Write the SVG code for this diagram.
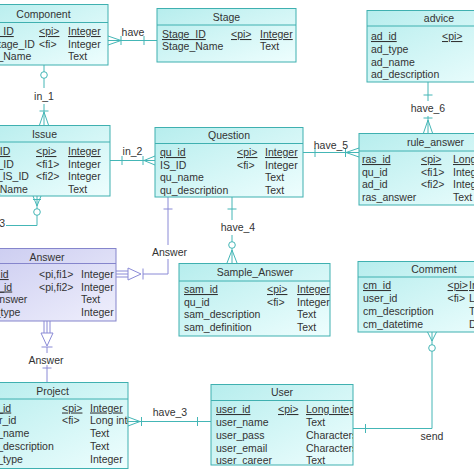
<svg xmlns="http://www.w3.org/2000/svg" width="474" height="474" viewBox="0 0 474 474">
<defs>
<linearGradient id="g" x1="0" y1="0" x2="1" y2="1"><stop offset="0" stop-color="#b6eded"/><stop offset="1" stop-color="#eefefe"/></linearGradient>
<linearGradient id="gp" x1="0" y1="0" x2="1" y2="1"><stop offset="0" stop-color="#cacbf0"/><stop offset="1" stop-color="#efeffc"/></linearGradient>
<clipPath id="cProject"><rect x="-23" y="382" width="151" height="90"/></clipPath>
<clipPath id="cUser"><rect x="211" y="384" width="142" height="81"/></clipPath>
</defs>
<style>
.box{fill:url(#g);stroke:#3fb0b0;stroke-width:1}
.pbox{fill:url(#gp);stroke:#8585cc;stroke-width:1}
.dv{stroke:#3fb0b0;stroke-width:1}
.pdv{stroke:#8585cc;stroke-width:1}
text{font-family:"Liberation Sans",Arial,sans-serif;font-size:10.5px;fill:#333}
.h{text-anchor:middle}
.u{text-decoration:underline}
.c{stroke:#44b6b6;fill:none;stroke-width:1}
.cp{stroke:#8a8ad6;fill:none;stroke-width:1}
.o{fill:#fff}
</style>

<g id="connectors">
  <!-- have: Component - Stage -->
  <path class="c" d="M108,40.5H157 M108,36L121,40.5L108,45 M121,36V45 M144,36V45"/>
  <text class="h" x="133" y="36">have</text>
  <!-- in_1: Component - Issue -->
  <path class="c" d="M44,65V88 M44,104V125 M44,112L39.5,125 M44,112L48.5,125 M39.5,111H48.5"/>
  <circle class="c o" cx="44" cy="75" r="3.3"/>
  <text class="h" x="44" y="100">in_1</text>
  <!-- in_2: Issue - Question -->
  <path class="c" d="M110,160.5H155 M122,156V165 M143,156V165 M144,160.5L155,156 M144,160.5L155,165"/>
  <text class="h" x="132.5" y="155">in_2</text>
  <!-- in_3: Issue self -->
  <path class="c" d="M37,196V225.5H6 M33,196L37,206L41,196 M33,199.5H41"/>
  <circle class="c o" cx="37" cy="212" r="3.3"/>
  <text x="5" y="227" text-anchor="end">in_3</text>
  <!-- have_4: Question - Sample_Answer -->
  <path class="c" d="M232,197V220 M232,235V263 M227.5,209H236.5 M232,250L227,263 M232,250L237,263"/>
  <circle class="c o" cx="232" cy="245" r="3.3"/>
  <text class="h" x="238" y="231">have_4</text>
  <!-- have_5: Question - rule_answer -->
  <path class="c" d="M303,152.5H359 M315,148V157 M345.5,148V157 M346,152.5L359,148 M346,152.5L359,157"/>
  <text class="h" x="331" y="148.5">have_5</text>
  <!-- have_6: advice - rule_answer -->
  <path class="c" d="M428,82V101 M428,116V133 M423.5,95H432.5 M423.5,118H432.5 M428,120L423.5,133 M428,120L432.5,133"/>
  <text class="h" x="428" y="112">have_6</text>
  <!-- send: Comment - User -->
  <path class="c" d="M432,332V428.5H353 M427.5,332L432,341L436.5,332 M365.5,424V433"/>
  <circle class="c o" cx="432" cy="348" r="3.3"/>
  <text class="h" x="432" y="440">send</text>
  <!-- have_3: Project - User -->
  <path class="c" d="M128,421.5H211 M128,417L140,421.5L128,426 M141.5,417V426 M197.5,417V426"/>
  <text class="h" x="170" y="416">have_3</text>
  <!-- Answer: Question - Answer -->
  <path class="cp" d="M168,197V245 M168,259V274H143 M163.5,209H172.5 M143,268.5V279.5 M141,274L128,268V280Z M128,271H116 M128,274H116 M128,277H116"/>
  <text class="h" x="169.5" y="255.5">Answer</text>
  <!-- Answer: Answer - Project -->
  <path class="cp" d="M47,347V353 M47,365V382 M41.5,347H52.5 M47,346L41,333H53Z M44,321V333 M47,321V333 M50,321V333 M42.5,368H51.5"/>
  <text class="h" x="46" y="364">Answer</text>
</g>

<g id="Component">
  <rect class="box" x="-21" y="4.5" width="129" height="60.5"/>
  <line class="dv" x1="-21" y1="22.5" x2="108" y2="22.5"/>
  <text class="h" x="43.5" y="18">Component</text>
  <text class="u" x="-16" y="35">Co_ID</text><text class="u" x="39" y="35">&lt;pi&gt;</text><text class="u" x="68" y="35">Integer</text>
  <text x="-9" y="47.5">Stage_ID</text><text x="39" y="47.5">&lt;fi&gt;</text><text x="68" y="47.5">Integer</text>
  <text x="-16" y="60">Co_Name</text><text x="68" y="60">Text</text>
</g>

<g id="Stage">
  <rect class="box" x="157" y="8.5" width="139" height="53.5"/>
  <line class="dv" x1="157" y1="25" x2="296" y2="25"/>
  <text class="h" x="226.5" y="21">Stage</text>
  <text class="u" x="162" y="38">Stage_ID</text><text class="u" x="231" y="38">&lt;pi&gt;</text><text class="u" x="260" y="38">Integer</text>
  <text x="162" y="50">Stage_Name</text><text x="260" y="50">Text</text>
</g>

<g id="advice">
  <rect class="box" x="367" y="10.5" width="144" height="71.5"/>
  <line class="dv" x1="367" y1="26" x2="511" y2="26"/>
  <text class="h" x="439" y="22">advice</text>
  <text class="u" x="371" y="40">ad_id</text><text class="u" x="442" y="40">&lt;pi&gt;</text>
  <text x="371" y="53">ad_type</text>
  <text x="371" y="65.5">ad_name</text>
  <text x="371" y="78">ad_description</text>
</g>

<g id="Issue">
  <rect class="box" x="-21" y="125.5" width="131" height="70.5"/>
  <line class="dv" x1="-21" y1="142" x2="110" y2="142"/>
  <text class="h" x="44.5" y="138">Issue</text>
  <text class="u" x="-16" y="155">IS_ID</text><text class="u" x="36" y="155">&lt;pi&gt;</text><text class="u" x="68" y="155">Integer</text>
  <text x="-16" y="167.5">Co_ID</text><text x="36" y="167.5">&lt;fi1&gt;</text><text x="68" y="167.5">Integer</text>
  <text x="-16" y="180">Pa_IS_ID</text><text x="36" y="180">&lt;fi2&gt;</text><text x="68" y="180">Integer</text>
  <text x="-16" y="192.5">IS_Name</text><text x="68" y="192.5">Text</text>
</g>

<g id="Question">
  <rect class="box" x="155" y="127.5" width="148" height="69.5"/>
  <line class="dv" x1="155" y1="143.5" x2="303" y2="143.5"/>
  <text class="h" x="229" y="139">Question</text>
  <text class="u" x="160" y="156">qu_id</text><text class="u" x="237" y="156">&lt;pi&gt;</text><text class="u" x="265" y="156">Integer</text>
  <text x="160" y="168.5">IS_ID</text><text x="237" y="168.5">&lt;fi&gt;</text><text x="265" y="168.5">Integer</text>
  <text x="160" y="181">qu_name</text><text x="265" y="181">Text</text>
  <text x="160" y="193.5">qu_description</text><text x="265" y="193.5">Text</text>
</g>

<g id="rule_answer">
  <rect class="box" x="359" y="133.5" width="153" height="71.5"/>
  <line class="dv" x1="359" y1="151" x2="512" y2="151"/>
  <text class="h" x="435.5" y="145.5">rule_answer</text>
  <text class="u" x="362" y="163">ras_id</text><text class="u" x="421" y="163">&lt;pi&gt;</text><text class="u" x="453" y="163">Long integer</text>
  <text x="362" y="175.5">qu_id</text><text x="421" y="175.5">&lt;fi1&gt;</text><text x="453" y="175.5">Integer</text>
  <text x="362" y="188">ad_id</text><text x="421" y="188">&lt;fi2&gt;</text><text x="453" y="188">Integer</text>
  <text x="362" y="200.5">ras_answer</text><text x="453" y="200.5">Text</text>
</g>

<g id="Answer">
  <rect class="pbox" x="-22" y="248.5" width="138" height="72.5"/>
  <line class="pdv" x1="-22" y1="263.5" x2="116" y2="263.5"/>
  <text class="h" x="47" y="260.5">Answer</text>
  <text class="u" x="-17" y="278">qu_id</text><text x="39" y="278">&lt;pi,fi1&gt;</text><text x="81" y="278">Integer</text>
  <text class="u" x="-17" y="290.5">pro_id</text><text x="39" y="290.5">&lt;pi,fi2&gt;</text><text x="81" y="290.5">Integer</text>
  <text x="-24" y="303">an_answer</text><text x="81" y="303">Text</text>
  <text x="-17" y="315.5">an_type</text><text x="81" y="315.5">Integer</text>
</g>

<g id="Sample_Answer">
  <rect class="box" x="179" y="263.5" width="151" height="72.5"/>
  <line class="dv" x1="179" y1="281" x2="330" y2="281"/>
  <text class="h" x="255" y="276">Sample_Answer</text>
  <text class="u" x="184" y="293">sam_id</text><text class="u" x="267" y="293">&lt;pi&gt;</text><text class="u" x="297" y="293">Integer</text>
  <text x="184" y="305.5">qu_id</text><text x="267" y="305.5">&lt;fi&gt;</text><text x="297" y="305.5">Integer</text>
  <text x="184" y="318">sam_description</text><text x="297" y="318">Text</text>
  <text x="184" y="330.5">sam_definition</text><text x="297" y="330.5">Text</text>
</g>

<g id="Comment">
  <rect class="box" x="358" y="261.5" width="152" height="70.5"/>
  <line class="dv" x1="358" y1="277" x2="510" y2="277"/>
  <text class="h" x="434" y="273">Comment</text>
  <text class="u" x="363" y="289">cm_id</text><text class="u" x="447.5" y="289">&lt;pi&gt;</text><text class="u" x="469" y="289">Integer</text>
  <text x="363" y="302">user_id</text><text x="447.5" y="302">&lt;fi&gt;</text><text x="469" y="302">Long integer</text>
  <text x="363" y="315">cm_description</text><text x="469" y="315">Text</text>
  <text x="363" y="328">cm_datetime</text><text x="469" y="328">Datetime</text>
</g>

<g id="Project">
  <rect class="box" x="-23" y="382.5" width="151" height="86"/>
  <line class="dv" x1="-23" y1="399" x2="128" y2="399"/>
  <text class="h" x="52.5" y="394.5">Project</text>
  <g clip-path="url(#cProject)">
  <text class="u" x="-18" y="411.5">pro_id</text><text class="u" x="62" y="411.5">&lt;pi&gt;</text><text class="u" x="90" y="411.5">Integer</text>
  <text x="-18" y="424">user_id</text><text x="62" y="424">&lt;fi&gt;</text><text x="90" y="424">Long integer</text>
  <text x="-18" y="436.5">pro_name</text><text x="90" y="436.5">Text</text>
  <text x="-18" y="450">pro_description</text><text x="90" y="450">Text</text>
  <text x="-18" y="463">pro_type</text><text x="90" y="463">Integer</text>
  </g>
</g>

<g id="User">
  <rect class="box" x="211" y="384.5" width="142" height="80.5"/>
  <line class="dv" x1="211" y1="400.5" x2="353" y2="400.5"/>
  <text class="h" x="282" y="396">User</text>
  <g clip-path="url(#cUser)">
  <text class="u" x="216" y="413">user_id</text><text class="u" x="278" y="413">&lt;pi&gt;</text><text class="u" x="306" y="413">Long integer</text>
  <text x="216" y="426">user_name</text><text x="306" y="426">Text</text>
  <text x="216" y="439">user_pass</text><text x="306" y="439">Characters</text>
  <text x="216" y="451.5">user_email</text><text x="306" y="451.5">Characters</text>
  <text x="216" y="464">user_career</text><text x="306" y="464">Text</text>
  </g>
</g>
</svg>
